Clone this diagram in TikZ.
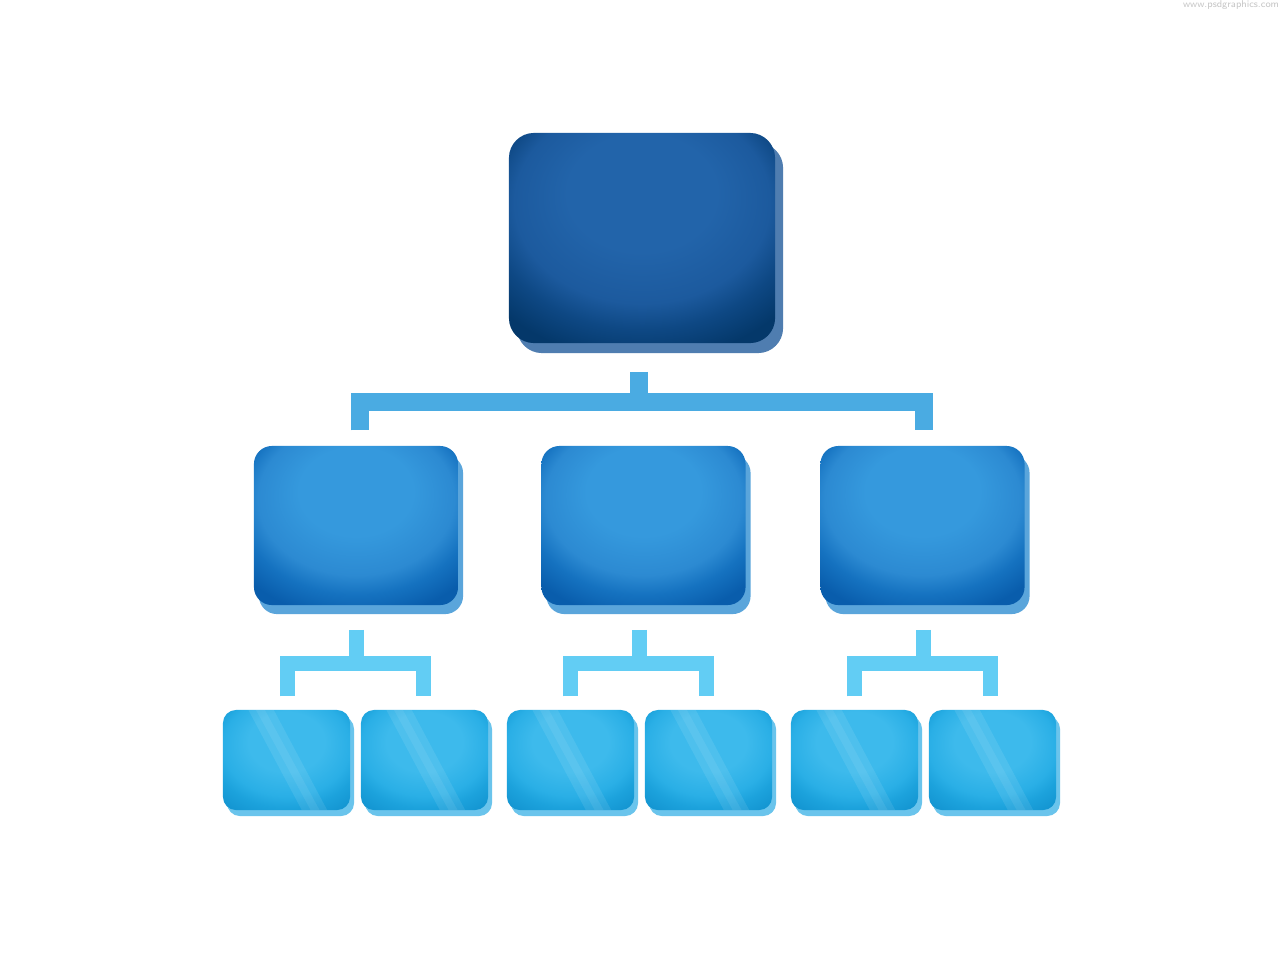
\documentclass[tikz,border=0pt]{standalone}
\usetikzlibrary{calc,shadows}

\definecolor{topin}{HTML}{2264AA}
\definecolor{topmid}{HTML}{1C5A9E}
\definecolor{topdark}{HTML}{0E4884}
\definecolor{topout}{HTML}{04386A}
\definecolor{topshade}{HTML}{4F7DB0}
\definecolor{midin}{HTML}{3599DD}
\definecolor{midmid}{HTML}{2C8AD2}
\definecolor{middark}{HTML}{1572C0}
\definecolor{midout}{HTML}{095DAC}
\definecolor{midshade}{HTML}{5AA5DB}
\definecolor{botin}{HTML}{3DBAEC}
\definecolor{botmid}{HTML}{2AAFE6}
\definecolor{botdark}{HTML}{1CA2DC}
\definecolor{botout}{HTML}{1496D2}
\definecolor{botshade}{HTML}{6AC4EC}
\definecolor{trunkblue}{HTML}{4AABE2}
\definecolor{branchblue}{HTML}{62CDF4}

\pgfdeclareradialshading{topglow}{\pgfpoint{0bp}{14bp}}{color(0bp)=(topin); color(14bp)=(topin); color(24bp)=(topmid); color(29bp)=(topdark); color(35bp)=(topout); color(60bp)=(topout)}
\pgfdeclareradialshading{midglow}{\pgfpoint{0bp}{14bp}}{color(0bp)=(midin); color(14bp)=(midin); color(24bp)=(midmid); color(29bp)=(middark); color(35bp)=(midout); color(60bp)=(midout)}
\pgfdeclareradialshading{botglow}{\pgfpoint{0bp}{12bp}}{color(0bp)=(botin); color(15bp)=(botin); color(25bp)=(botmid); color(30bp)=(botdark); color(36bp)=(botout); color(60bp)=(botout)}

\begin{document}
\begin{tikzpicture}[x=0.01cm,y=-0.01cm,
    streak/.style={path picture={
      \fill[white,opacity=0.09,sharp corners] ($(path picture bounding box.north west)!0.20!(path picture bounding box.north east)$)
        -- ($(path picture bounding box.north west)!0.40!(path picture bounding box.north east)$)
        -- ($(path picture bounding box.south west)!0.82!(path picture bounding box.south east)$)
        -- ($(path picture bounding box.south west)!0.62!(path picture bounding box.south east)$) -- cycle;
      \fill[white,opacity=0.07,sharp corners] ($(path picture bounding box.north west)!0.26!(path picture bounding box.north east)$)
        -- ($(path picture bounding box.north west)!0.33!(path picture bounding box.north east)$)
        -- ($(path picture bounding box.south west)!0.76!(path picture bounding box.south east)$)
        -- ($(path picture bounding box.south west)!0.69!(path picture bounding box.south east)$) -- cycle;}},
    headbox/.style={shape=rectangle,rounded corners=0.25cm,inner sep=0pt,minimum width=2.66cm,minimum height=2.10cm,shading=topglow,
      drop shadow={shadow xshift=0.08cm,shadow yshift=-0.10cm,fill=topshade,opacity=1}},
    deptbox/.style={shape=rectangle,rounded corners=0.18cm,inner sep=0pt,minimum width=2.04cm,minimum height=1.59cm,shading=midglow,
      drop shadow={shadow xshift=0.05cm,shadow yshift=-0.09cm,fill=midshade,opacity=1}},
    teambox/.style={shape=rectangle,rounded corners=0.13cm,inner sep=0pt,minimum width=1.27cm,minimum height=1.00cm,shading=botglow,streak,
      drop shadow={shadow xshift=0.04cm,shadow yshift=-0.06cm,fill=botshade,opacity=1}},
    trunk/.style={draw=trunkblue,line width=0.18cm,line join=miter},
    branch/.style={draw=branchblue,line width=0.15cm,line join=miter}]
    \useasboundingbox[fill=white] (0,0) rectangle (1280,960);
    \node[text=gray!45,font=\fontsize{2.8}{3}\selectfont\sffamily] (mark) at (1231,5) {www.psdgraphics.com};
    \node[headbox] (top) at (642,238) {};
    \node[deptbox] (m1) at (356,525.5) {};
    \node[deptbox] (m2) at (643.5,525.5) {};
    \node[deptbox] (m3) at (922.5,525.5) {};
    \node[teambox] (b1) at (286.5,760) {};
    \node[teambox] (b2) at (424.5,760) {};
    \node[teambox] (b3) at (570.5,760) {};
    \node[teambox] (b4) at (708.5,760) {};
    \node[teambox] (b5) at (854.5,760) {};
    \node[teambox] (b6) at (992.5,760) {};
    \draw[trunk] ($(top.south)+(-3.5,28)$) -- ($(top.south)+(-3.5,58)$);
    \draw[trunk] ($(m1.north)+(4,-15)$) |- ($(top.south)+(0,58)$) -| ($(m3.north)+(1.5,-15)$);
    \draw[branch] ($(m1.south)+(0.5,24)$) -- ($(m1.south)+(0.5,57.5)$);
    \draw[branch] ($(b1.north)+(1,-13)$) |- ($(m1.south)+(0,57.5)$) -| ($(b2.north)+(-1,-13)$);
    \draw[branch] ($(m2.south)+(-4,24)$) -- ($(m2.south)+(-4,57.5)$);
    \draw[branch] ($(b3.north)+(0,-13)$) |- ($(m2.south)+(0,57.5)$) -| ($(b4.north)+(-2,-13)$);
    \draw[branch] ($(m3.south)+(1,24)$) -- ($(m3.south)+(1,57.5)$);
    \draw[branch] ($(b5.north)+(0,-13)$) |- ($(m3.south)+(0,57.5)$) -| ($(b6.north)+(-2,-13)$);
\end{tikzpicture}
\end{document}
